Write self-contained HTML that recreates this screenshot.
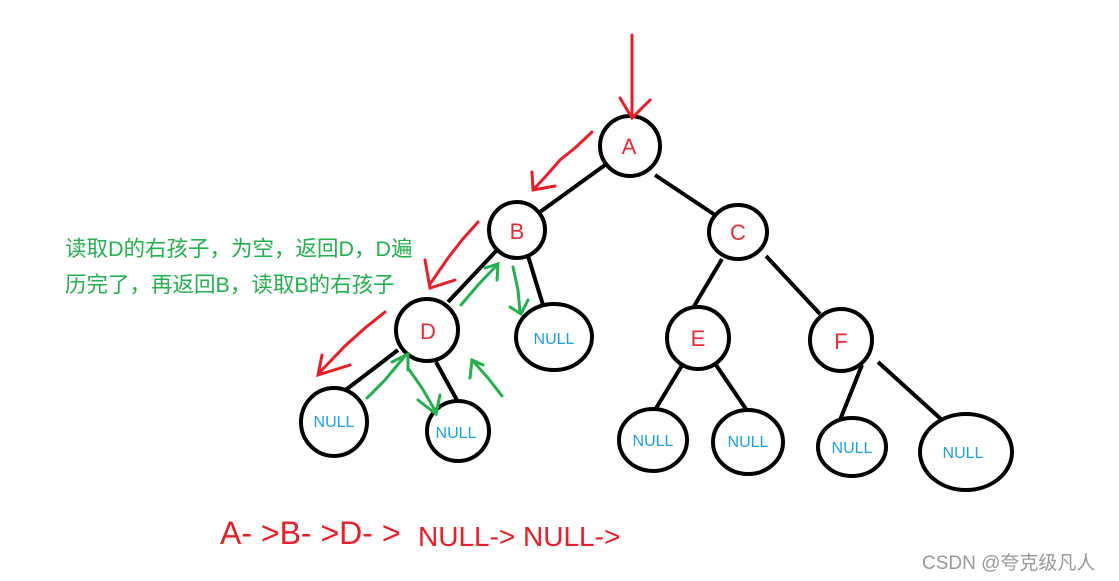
<!DOCTYPE html>
<html><head><meta charset="utf-8"><style>
body{margin:0;background:#fff;}
svg{display:block;}
text{font-family:"Liberation Sans","Noto Sans CJK SC",sans-serif;}
</style></head><body>
<svg width="1119" height="581" viewBox="0 0 1119 581" xmlns="http://www.w3.org/2000/svg">
<g stroke="#000" stroke-width="4" fill="none">
<line x1="605" y1="165" x2="540" y2="212"/>
<line x1="655" y1="175" x2="715" y2="215"/>
<line x1="497" y1="250" x2="448" y2="302"/>
<line x1="528" y1="256" x2="543" y2="305"/>
<line x1="722" y1="259" x2="693" y2="308"/>
<line x1="766" y1="256" x2="820" y2="314"/>
<line x1="398" y1="350" x2="343" y2="392"/>
<line x1="436" y1="362" x2="458" y2="402"/>
<line x1="684" y1="362" x2="655" y2="410"/>
<line x1="714" y1="362" x2="748" y2="412"/>
<line x1="862" y1="365" x2="840" y2="420"/>
<line x1="878" y1="362" x2="942" y2="420"/>
</g>
<g stroke="#000" stroke-width="4" fill="#fff">
<ellipse cx="630" cy="146" rx="30" ry="30"/>
<ellipse cx="517" cy="230" rx="28" ry="28"/>
<ellipse cx="738" cy="232" rx="29" ry="27"/>
<ellipse cx="427" cy="330" rx="31" ry="31"/>
<ellipse cx="554" cy="337" rx="38" ry="33"/>
<ellipse cx="698" cy="338" rx="31" ry="31"/>
<ellipse cx="841" cy="340" rx="31" ry="31"/>
<ellipse cx="334" cy="422" rx="33" ry="34"/>
<ellipse cx="458" cy="431" rx="31" ry="30"/>
<ellipse cx="653" cy="440" rx="34" ry="31"/>
<ellipse cx="748" cy="442" rx="35" ry="32"/>
<ellipse cx="852" cy="447" rx="34" ry="29"/>
<ellipse cx="966" cy="452" rx="46" ry="38"/>
</g>
<g fill="#ee2a35" font-size="22" text-anchor="middle">
<text x="629" y="154">A</text>
<text x="517" y="239">B</text>
<text x="738" y="240">C</text>
<text x="428" y="339">D</text>
<text x="698" y="346">E</text>
<text x="841" y="349">F</text>
</g>
<g fill="#1aa1e6" font-size="16" text-anchor="middle">
<text x="554" y="344">NULL</text>
<text x="334" y="427">NULL</text>
<text x="456" y="438">NULL</text>
<text x="653" y="446">NULL</text>
<text x="748" y="447">NULL</text>
<text x="852" y="453">NULL</text>
<text x="963" y="458">NULL</text>
</g>
<g stroke="#ee1c25" stroke-width="3" fill="none" stroke-linecap="round">
<path d="M632 35 L632 118 M620 98 L632 118 L650 100"/>
<path d="M592 132 L575 148 L560 160 L546 176 L533 190 M532 172 L533 190 L555 186"/>
<path d="M478 222 L462 240 L448 258 L430 284 M425 260 L430 288 L455 280"/>
<path d="M385 312 L365 328 L345 346 L320 372 M322 355 L318 375 L350 365"/>
</g>
<g stroke="#22b14c" stroke-width="3" fill="none" stroke-linecap="round">
<path d="M461 305 L478 285 L498 264 M485 268 L498 264 L497 280"/>
<path d="M513 267 L518 290 L520 312 M510 307 L521 314 L528 300"/>
<path d="M367 398 L385 380 L405 356 M392 362 L408 354 L408 370"/>
<path d="M408 368 L422 388 L436 412 M418 400 L436 414 L440 395"/>
<path d="M502 396 L488 378 L472 360 M470 378 L472 360 L483 365"/>
</g>
<g fill="#22b14c" font-size="21.5">
<text x="65" y="256">读取D的右孩子，为空，返回D，D遍</text>
<text x="65" y="292">历完了，再返回B，读取B的右孩子</text>
</g>
<g fill="#ee1c25">
<text x="220" y="544" font-size="32">A- &gt;B- &gt;D- &gt;</text>
<text x="418" y="546" font-size="28">NULL-&gt; NULL-&gt;</text>
</g>
<text x="922" y="569" font-size="19" fill="#999">CSDN @夸克级凡人</text>
</svg>
</body></html>
